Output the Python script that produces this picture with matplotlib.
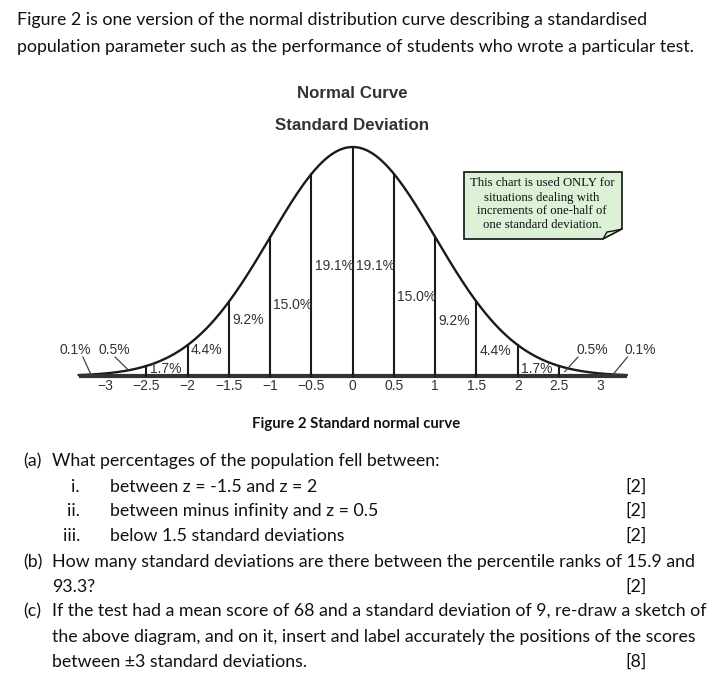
import numpy as np
import matplotlib.pyplot as plt
from matplotlib.patches import Polygon

# interval boundaries and the percentage written in each half-SD slice
slice_left = [-2.5, -2, -1.5, -1, -0.5, 0, 0.5, 1, 1.5, 2]
slice_pct = ['1.7%', '4.4%', '9.2%', '15.0%', '19.1%', '19.1%', '15.0%', '9.2%', '4.4%', '1.7%']
slice_label_y = [0.0122, 0.0453, 0.0976, 0.1237, 0.1916, 0.1916, 0.138, 0.0958, 0.044, 0.0122]

# the two tails on each side
tail_pct = ['0.1%', '0.5%', '0.5%', '0.1%']
tail_x = [-3.36, -2.89, 2.90, 3.48]
tail_from = [(-3.27, 0.033), (-2.88, 0.033), (2.73, 0.033), (3.33, 0.033)]
tail_to = [(-3.17, 0.0017), (-2.72, 0.0105), (2.57, 0.0075), (3.15, 0.0017)]

tick_z = [-3, -2.5, -2, -1.5, -1, -0.5, 0, 0.5, 1, 1.5, 2, 2.5, 3]
line_z = [-2.5, -2, -1.5, -1, -0.5, 0, 0.5, 1, 1.5, 2, 2.5]

note_lines = ["This chart is used ONLY for", "situations dealing with",
              "increments of one-half of", "one standard deviation."]

intro = ["Figure 2 is one version of the normal distribution curve describing a standardised",
         "population parameter such as the performance of students who wrote a particular test."]
caption = "Figure 2 Standard normal curve"

W, H = 720, 677


def fx(x):
    return x / W


def fy(y):
    return 1 - y / H


def pdf(z):
    return np.exp(-np.asarray(z) ** 2 / 2) / np.sqrt(2 * np.pi)


fig = plt.figure(figsize=(7.2, 6.77), dpi=100)
fig.patch.set_facecolor('white')

body = ['Lato', 'DejaVu Sans']
chart_font = ['Liberation Sans', 'DejaVu Sans']
ink = '#111111'
gray = '#333333'
bsize = 12.8

# intro text
for i, t in enumerate(intro):
    fig.text(fx(17), fy(20 + 27 * i), t, family=body, fontsize=bsize, color=ink, va='center')

# chart titles
fig.text(fx(352), fy(93), "Normal Curve", family=chart_font, fontsize=12.2, weight='bold',
         color=gray, ha='center', va='center')
fig.text(fx(352), fy(126), "Standard Deviation", family=chart_font, fontsize=12.2, weight='bold',
         color=gray, ha='center', va='center')

# curve axes: z=0 at x=352.7px, 82.5 px per unit, baseline at y=376px
ppu = 82.5
left_px = 352.7 - 3.5 * ppu
h_px = 229 * 0.4 / pdf(0)
ax = fig.add_axes([fx(left_px), fy(376), 7 * ppu / W, h_px / H])
ax.set_xlim(-3.5, 3.5)
ax.set_ylim(0, 0.4)
ax.axis('off')

zz = np.linspace(-3.32, 3.32, 400)
ax.plot(zz, pdf(zz), color='#1a1a1a', lw=1.7, clip_on=False)
ax.plot([-3.32, 3.32], [0, 0], color='#333333', lw=3, solid_capstyle='butt', clip_on=False)
for z in line_z:
    ax.plot([z, z], [0, pdf(z)], color='#1a1a1a', lw=1.5, clip_on=False)

for z, lab, y in zip(slice_left, slice_pct, slice_label_y):
    ax.text(z + 0.04, y, lab, family=chart_font, fontsize=10, color=gray, va='center', ha='left')

for x, lab, a, b in zip(tail_x, tail_pct, tail_from, tail_to):
    ax.text(x, 0.0445, lab, family=chart_font, fontsize=10, color=gray, va='center', ha='center')
    ax.plot([a[0], b[0]], [a[1], b[1]], color='#444444', lw=0.9, clip_on=False)

for z in tick_z:
    lab = ('%g' % z).replace('-', '\u2212')
    ax.text(z, -0.0175, lab, family=chart_font, fontsize=10, color=gray, va='center', ha='center',
            clip_on=False)

# callout note with folded corner
box = [(464, 172), (622, 172), (622, 229), (603, 239), (464, 239)]
fig.patches.append(Polygon([(fx(x), fy(y)) for x, y in box], closed=True, transform=fig.transFigure,
                           facecolor='#dcf1d6', edgecolor='#111111', lw=1.2))
fold = [(603, 239), (607, 232), (613, 231), (622, 229)]
fig.patches.append(Polygon([(fx(x), fy(y)) for x, y in fold], closed=False, transform=fig.transFigure,
                           facecolor='none', edgecolor='#111111', lw=1.0))
for i, t in enumerate(note_lines):
    fig.text(fx(542), fy(183.5 + 14 * i), t, family=['Liberation Serif', 'DejaVu Serif'],
             fontsize=9.2, color=ink, ha='center', va='center')

fig.text(fx(356), fy(424), caption, family=body, fontsize=10.7, weight='bold', color=ink,
         ha='center', va='center')

# questions
rows = [
    (23, 52, 461, "(a)", "What percentages of the population fell between:", None),
    (80, 110, 487, "i.", "between z = -1.5 and z = 2", "[2]"),
    (80, 110, 511, "ii.", "between minus infinity and z = 0.5", "[2]"),
    (80, 110, 536, "iii.", "below 1.5 standard deviations", "[2]"),
    (23, 52, 562, "(b)", "How many standard deviations are there between the percentile ranks of 15.9 and", None),
    (None, 52, 587, None, "93.3?", "[2]"),
    (23, 52, 611, "(c)", "If the test had a mean score of 68 and a standard deviation of 9, re-draw a sketch of", None),
    (None, 52, 637, None, "the above diagram, and on it, insert and label accurately the positions of the scores", None),
    (None, 52, 662, None, "between \u00b13 standard deviations.", "[8]"),
]
for lx, tx, y, lab, txt, mark in rows:
    if lab is not None:
        ha = 'left' if lab.startswith('(') else 'right'
        fig.text(fx(lx), fy(y), lab, family=body, fontsize=bsize, color=ink, va='center', ha=ha)
    fig.text(fx(tx), fy(y), txt, family=body, fontsize=bsize, color=ink, va='center')
    if mark:
        fig.text(fx(647), fy(y), mark, family=body, fontsize=bsize, color=ink, va='center', ha='right')

fig.savefig('out.png', dpi=100, facecolor='white')
